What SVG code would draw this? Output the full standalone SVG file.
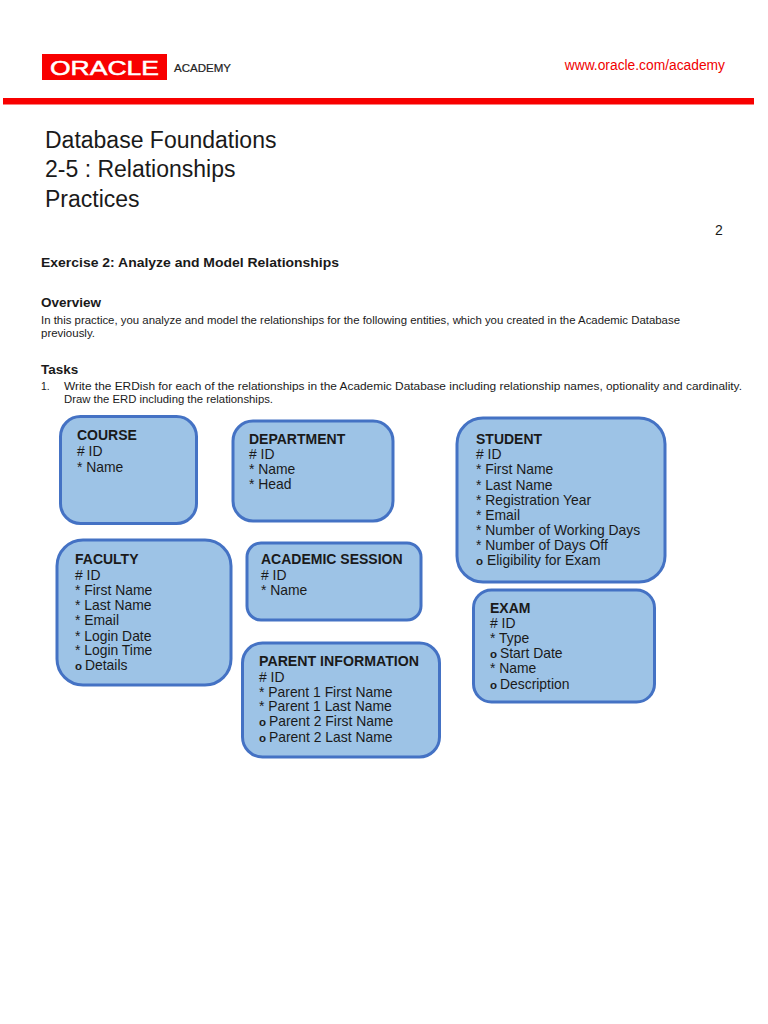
<svg xmlns="http://www.w3.org/2000/svg" width="768" height="1024" viewBox="0 0 768 1024">
<style>
text{font-family:"Liberation Sans",Arial,sans-serif;fill:#1a1a1a}
.b{fill:#9dc3e6;stroke:#4472c4;stroke-width:3}
.h{font-size:14px;font-weight:bold}
.t{font-size:13.900px}
.title{font-size:23px}
.s{font-size:10.400px}
.o{font-size:11.500px;font-weight:bold}
.sub{font-size:13.500px;font-weight:bold}
</style>
<rect width="768" height="1024" fill="#fff"/>
<g id="header">
<rect x="42" y="54" width="125" height="26" fill="#f80000"/>
<text x="50" y="75" font-size="20" textLength="109" lengthAdjust="spacingAndGlyphs" style="fill:#fff;stroke:#fff;stroke-width:.5">ORACLE</text>
<text x="174" y="72" font-size="10.500" textLength="57" lengthAdjust="spacingAndGlyphs" style="fill:#222;stroke:#222;stroke-width:.2">ACADEMY</text>
<text x="725" y="70" font-size="13.800" text-anchor="end" style="fill:#f00000">www.oracle.com/academy</text>
<rect x="3" y="98" width="751" height="6.500" fill="#f80000"/>
</g>
<g id="intro">
<text class="title" x="45" y="147.500">Database Foundations</text>
<text class="title" x="45" y="177">2-5 : Relationships</text>
<text class="title" x="45" y="207">Practices</text>
<text x="715" y="235" font-size="14">2</text>
<text class="sub" x="41" y="266.500" textLength="298" lengthAdjust="spacingAndGlyphs">Exercise 2: Analyze and Model Relationships</text>
<text class="sub" x="41" y="306.500">Overview</text>
<text class="s" x="41" y="324" textLength="639" lengthAdjust="spacingAndGlyphs">In this practice, you analyze and model the relationships for the following entities, which you created in the Academic Database</text>
<text class="s" x="41" y="337" textLength="54" lengthAdjust="spacingAndGlyphs">previously.</text>
<text class="sub" x="41" y="373.500">Tasks</text>
<text class="s" x="41" y="390">1.</text>
<text class="s" x="64" y="390" textLength="678" lengthAdjust="spacingAndGlyphs">Write the ERDish for each of the relationships in the Academic Database including relationship names, optionality and cardinality.</text>
<text class="s" x="64" y="403" textLength="209" lengthAdjust="spacingAndGlyphs">Draw the ERD including the relationships.</text>
</g>
<g id="course">
<rect class="b" x="60.500" y="416.500" width="136" height="107" rx="20"/>
<text class="h" x="77" y="440">COURSE</text>
<text class="t" x="77" y="455.500"># ID</text>
<text class="t" x="77" y="472">* Name</text>
</g>
<g id="department">
<rect class="b" x="233" y="421" width="160" height="100" rx="20"/>
<text class="h" x="249" y="444">DEPARTMENT</text>
<text class="t" x="249" y="459"># ID</text>
<text class="t" x="249" y="474">* Name</text>
<text class="t" x="249" y="488.500">* Head</text>
</g>
<g id="student">
<rect class="b" x="457" y="418" width="208" height="164" rx="26"/>
<text class="h" x="476" y="444">STUDENT</text>
<text class="t" x="476" y="459"># ID</text>
<text class="t" x="476" y="474">* First Name</text>
<text class="t" x="476" y="489.500">* Last Name</text>
<text class="t" x="476" y="505">* Registration Year</text>
<text class="t" x="476" y="519.500">* Email</text>
<text class="t" x="476" y="535">* Number of Working Days</text>
<text class="t" x="476" y="550">* Number of Days Off</text>
<text class="o" x="476" y="565">o</text><text class="t" x="487" y="565">Eligibility for Exam</text>
</g>
<g id="faculty">
<rect class="b" x="57" y="540" width="174" height="145" rx="26"/>
<text class="h" x="75" y="564">FACULTY</text>
<text class="t" x="75" y="580"># ID</text>
<text class="t" x="75" y="594.500">* First Name</text>
<text class="t" x="75" y="610">* Last Name</text>
<text class="t" x="75" y="625">* Email</text>
<text class="t" x="75" y="640.500">* Login Date</text>
<text class="t" x="75" y="655">* Login Time</text>
<text class="o" x="75" y="670">o</text><text class="t" x="85" y="670">Details</text>
</g>
<g id="academic-session">
<rect class="b" x="247" y="543" width="174" height="77" rx="14"/>
<text class="h" x="261" y="564">ACADEMIC SESSION</text>
<text class="t" x="261" y="580"># ID</text>
<text class="t" x="261" y="594.500">* Name</text>
</g>
<g id="parent-information">
<rect class="b" x="242.500" y="643" width="197" height="114" rx="20"/>
<text class="h" x="259" y="666" textLength="160" lengthAdjust="spacingAndGlyphs">PARENT INFORMATION</text>
<text class="t" x="259" y="681.500"># ID</text>
<text class="t" x="259" y="696.500">* Parent 1 First Name</text>
<text class="t" x="259" y="711">* Parent 1 Last Name</text>
<text class="o" x="259" y="726">o</text><text class="t" x="269" y="726">Parent 2 First Name</text>
<text class="o" x="259" y="741.500">o</text><text class="t" x="269" y="741.500">Parent 2 Last Name</text>
</g>
<g id="exam">
<rect class="b" x="473.500" y="590" width="181" height="112" rx="18"/>
<text class="h" x="490" y="613">EXAM</text>
<text class="t" x="490" y="628"># ID</text>
<text class="t" x="490" y="643">* Type</text>
<text class="o" x="490" y="658">o</text><text class="t" x="500" y="658">Start Date</text>
<text class="t" x="490" y="673">* Name</text>
<text class="o" x="490" y="689">o</text><text class="t" x="500" y="689">Description</text>
</g>
<g id="connectors"></g>
</svg>
